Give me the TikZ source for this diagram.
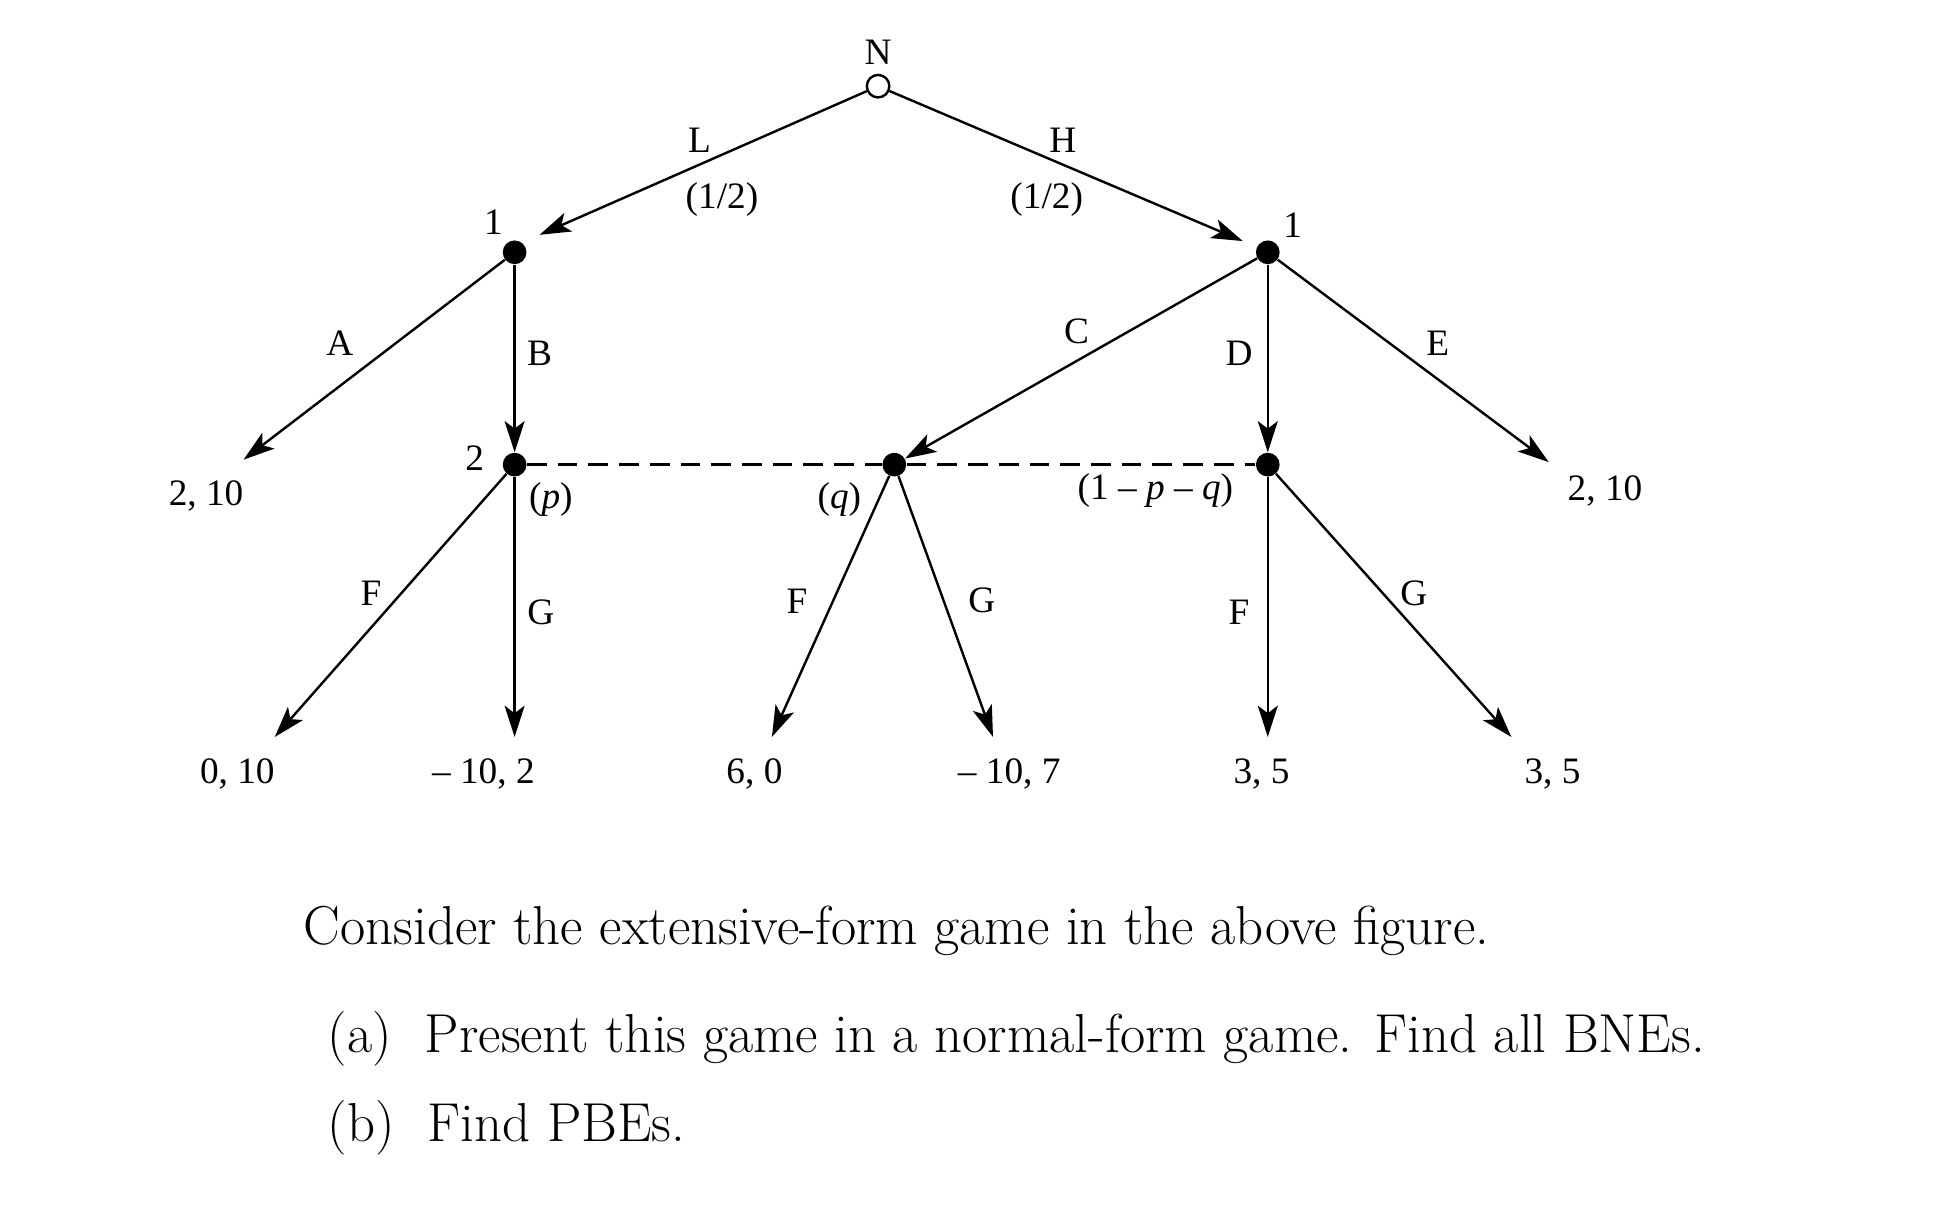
\documentclass[tikz,border=0pt]{standalone}
\usepackage{fontspec}
\newfontfamily\tf{Liberation Serif}
\usetikzlibrary{arrows.meta}
\begin{document}
\begin{tikzpicture}[x=0.02cm,y=-0.02cm,
  dec/.style={circle,fill=black,inner sep=0pt,minimum size=0.38cm},
  mv/.style={line width=1.1pt,-{Stealth[length=0.5cm,width=0.32cm,inset=0.12cm]},shorten <=0pt},
  lb/.style={font=\tf\fontsize{17}{20}\selectfont,inner sep=0pt},
  txt/.style={font=\fontsize{25}{30}\selectfont,anchor=west,inner sep=0pt}]
\useasboundingbox (0,0) rectangle (1550,983);
\node[circle,draw,line width=1.1pt,fill=white,inner sep=0pt,minimum size=0.36cm] (N) at (703,69) {};
\node[dec] (l1) at (412,202) {};
\node[dec] (r1) at (1015,202) {};
\node[dec] (a) at (412,372) {};
\node[dec] (b) at (716,372) {};
\node[dec] (c) at (1015,372) {};
\coordinate (tA) at (195,368);
\coordinate (tE) at (1240,370);
\coordinate (t1) at (220,590);
\coordinate (t2) at (412,590);
\coordinate (t3) at (618,590);
\coordinate (t4) at (795,590);
\coordinate (t5) at (1015,590);
\coordinate (t6) at (1210,590);
\draw[mv] (N) -- (432,188);
\draw[mv] (N) -- (995,193);
\draw[mv] (l1) -- (tA);
\draw[mv] (l1) -- (a);
\draw[mv] (r1) -- (b);
\draw[mv] (r1) -- (c);
\draw[mv] (r1) -- (tE);
\draw[mv] (a) -- (t1);
\draw[mv] (a) -- (t2);
\draw[mv] (b) -- (t3);
\draw[mv] (b) -- (t4);
\draw[mv] (c) -- (t5);
\draw[mv] (c) -- (t6);
\draw[line width=1.1pt,dash pattern=on 9pt off 5pt] (a) -- (b) -- (c);
\node[lb] (nN) at (703,42) {N};
\node[lb] at (560,112) {L};
\node[lb] at (578,160) {(1/2)};
\node[lb] at (851,112) {H};
\node[lb] at (838,160) {(1/2)};
\node[lb] at (395,178) {1};
\node[lb] at (1035,180) {1};
\node[lb] at (272,275) {A};
\node[lb] at (432,283) {B};
\node[lb] at (862,265) {C};
\node[lb] at (992,283) {D};
\node[lb] at (1151,275) {E};
\node[lb] at (380,367) {2};
\node[lb] at (441,400) {(\textit{p})};
\node[lb] at (672,400) {(\textit{q})};
\node[lb] at (925,393) {(1 – \textit{p} – \textit{q})};
\node[lb] at (297,475) {F};
\node[lb] at (433,490) {G};
\node[lb] at (638,481) {F};
\node[lb] at (786,481) {G};
\node[lb] at (992,490) {F};
\node[lb] at (1132,475) {G};
\node[lb] at (165,397) {2, 10};
\node[lb] at (1285,393) {2, 10};
\node[lb] at (190,620) {0, 10};
\node[lb] at (387,620) {– 10, 2};
\node[lb] at (604,620) {6, 0};
\node[lb] at (808,620) {– 10, 7};
\node[lb] at (1010,620) {3, 5};
\node[lb] at (1243,620) {3, 5};
\node[txt] at (243,745) {Consider the extensive-form game in the above figure.};
\node[txt] at (262,832) {(a)\ \ Present this game in a normal-form game. Find all BNEs.};
\node[txt] at (262,903) {(b)\ \ Find PBEs.};
\end{tikzpicture}
\end{document}
